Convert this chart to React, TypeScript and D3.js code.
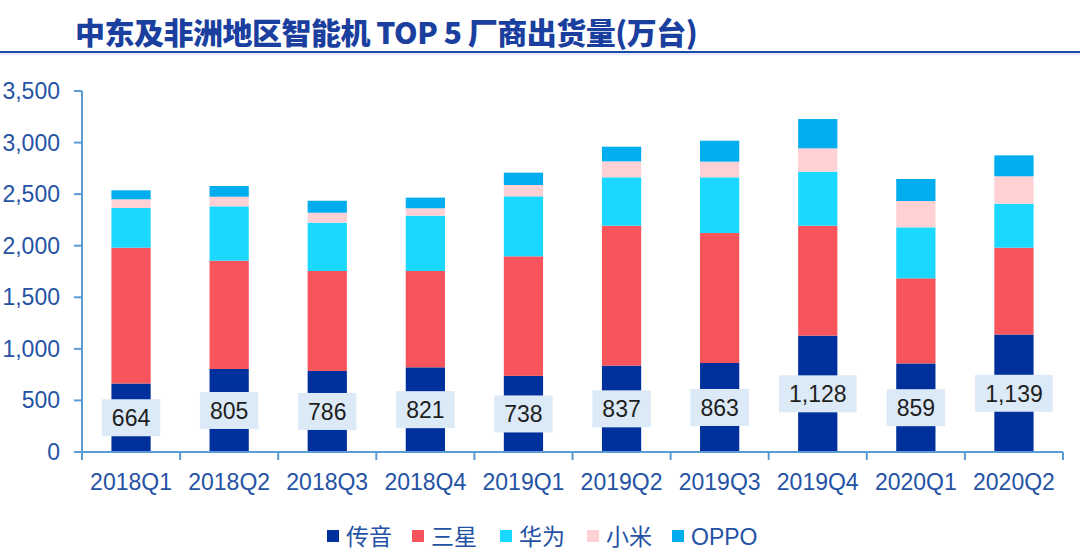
import React from "react";
import * as d3 from "d3";

const categories = ["2018Q1", "2018Q2", "2018Q3", "2018Q4", "2019Q1", "2019Q2", "2019Q3", "2019Q4", "2020Q1", "2020Q2"];
const seriesNames = ["传音", "三星", "华为", "小米", "OPPO"];
const transsion = [664, 805, 786, 821, 738, 837, 863, 1128, 859, 1139];
const samsung = [1317, 1050, 969, 934, 1159, 1357, 1260, 1066, 825, 842];
const huawei = [385, 527, 468, 536, 582, 469, 540, 524, 494, 426];
const xiaomi = [84, 93, 97, 72, 110, 155, 152, 226, 255, 266];
const oppo = [87, 104, 116, 103, 119, 142, 203, 284, 214, 203];
const yTicks = [0, 500, 1000, 1500, 2000, 2500, 3000, 3500];
const colors = ["#00309c", "#f7545c", "#1ad8ff", "#ffd1d4", "#00adef"];

const W = 1080;
const H = 554;
const axisColor = "#5b9bd5";
const textBlue = "#2452a4";
const latin = "'Liberation Sans', Arial, sans-serif";
const cjk = "'Noto Sans CJK SC', sans-serif";

const App: React.FC = () => {
	const x = d3.scaleBand().domain(categories).range([82, 1063]).paddingInner(0.6).paddingOuter(0.3);
	const y = d3.scaleLinear().domain([0, 3500]).range([452, 91]);
	const step = x.step();
	const fmt = d3.format(",");

	const table = categories.map((c, i) => ({
		cat: c,
		s0: transsion[i],
		s1: samsung[i],
		s2: huawei[i],
		s3: xiaomi[i],
		s4: oppo[i],
	}));
	const stack = d3.stack<any>().keys(["s0", "s1", "s2", "s3", "s4"])(table);

	const legendX = [327, 412, 500, 587, 672];

	return (
		<div style={{position: "absolute", left: 0, top: 0}}>
			<svg width={W} height={H} style={{display: "block", background: "#fff"}}>
				{/* title */}
				<text x={75} y={44} fontFamily={cjk} fontWeight={900} fontSize={30} letterSpacing={-0.5} fill="#1a3f9e">
					中东及非洲地区智能机 TOP 5 厂商出货量(万台)
				</text>
				<line x1={0} x2={W} y1={52} y2={52} stroke="#1a4ba8" strokeWidth={2} />
				<line x1={0} x2={W} y1={54} y2={54} stroke="#c9d6ee" strokeWidth={1} />

				{/* bars */}
				{stack.map((layer, si) => (
					<g key={si} fill={colors[si]}>
						{layer.map((d, i) => (
							<rect
								key={i}
								x={x(categories[i])}
								width={x.bandwidth()}
								y={y(d[1])}
								height={y(d[0]) - y(d[1])}
							/>
						))}
					</g>
				))}

				{/* y axis */}
				<line x1={82} x2={82} y1={y(3500)} y2={y(0)} stroke={axisColor} strokeWidth={2} />
				{yTicks.map((t) => (
					<g key={t}>
						<line x1={74} x2={82} y1={y(t)} y2={y(t)} stroke={axisColor} strokeWidth={2} />
						<text x={60} y={y(t)} dy="0.35em" textAnchor="end" fontFamily={latin} fontSize={23} fill={textBlue}>
							{fmt(t)}
						</text>
					</g>
				))}

				{/* x axis */}
				<line x1={82} x2={1063} y1={y(0)} y2={y(0)} stroke={axisColor} strokeWidth={2} />
				{d3.range(categories.length + 1).map((i) => (
					<line key={i} x1={82 + i * step} x2={82 + i * step} y1={y(0)} y2={y(0) + 8} stroke={axisColor} strokeWidth={2} />
				))}
				{categories.map((c) => (
					<text key={c} x={(x(c) || 0) + x.bandwidth() / 2} y={490} textAnchor="middle" fontFamily={latin} fontSize={23} fill={textBlue}>
						{c}
					</text>
				))}

				{/* transsion labels */}
				{transsion.map((v, i) => {
					const label = fmt(v);
					const tw = label.replace(/,/g, "").length * 12.8 + (label.includes(",") ? 6.4 : 0);
					const bw = tw + 20;
					const cx = (x(categories[i]) || 0) + x.bandwidth() / 2;
					const cy = y(v / 2);
					return (
						<g key={i}>
							<rect x={cx - bw / 2} y={cy - 18.5} width={bw} height={37} fill="#dce9f6" />
							<text x={cx} y={cy} dy="0.36em" textAnchor="middle" fontFamily={latin} fontSize={23} fill="#1e1e1e">
								{label}
							</text>
						</g>
					);
				})}

				{/* legend */}
				{seriesNames.map((n, i) => (
					<g key={n}>
						<rect x={legendX[i]} y={530} width={12} height={12} fill={colors[i]} />
						<text x={legendX[i] + 19} y={537} dy="0.36em" fontFamily={i === 4 ? latin : cjk} fontSize={23} fill={textBlue}>
							{n}
						</text>
					</g>
				))}
			</svg>
		</div>
	);
};

export default App;
